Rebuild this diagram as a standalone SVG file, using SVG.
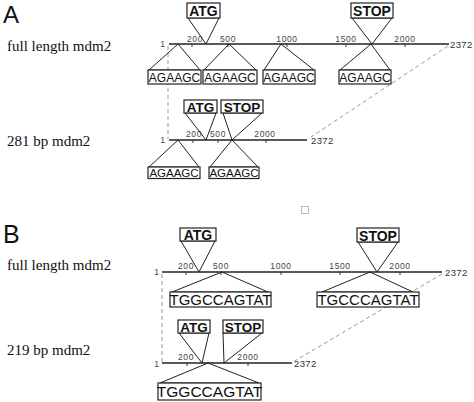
<svg xmlns="http://www.w3.org/2000/svg" width="474" height="402" viewBox="0 0 474 402">
<style>
.bg{fill:#fff}
.gene{stroke:#222;stroke-width:1.3;fill:none}
.tick{stroke:#333;stroke-width:1;fill:none}
.dash{stroke:#999;stroke-width:1;stroke-dasharray:4,3;fill:none}
.box{fill:#fff;stroke:#222;stroke-width:1.2}
.tri{fill:none;stroke:#222;stroke-width:1}
.lab{font-family:"Liberation Sans",Arial,sans-serif;font-weight:bold;fill:#111;text-anchor:middle}
.seq{font-family:"Liberation Sans",Arial,sans-serif;fill:#111;text-anchor:middle}
.num{font-family:"Liberation Sans",Arial,sans-serif;font-size:8.5px;fill:#444;text-anchor:middle;letter-spacing:0.6px}
.end{font-family:"Liberation Sans",Arial,sans-serif;font-size:9.5px;fill:#333;letter-spacing:0.4px}
.name{font-family:"Liberation Serif","Times New Roman",serif;font-size:15px;fill:#111}
.panel{font-family:"Liberation Sans",Arial,sans-serif;fill:#111}
</style>
<rect class="bg" x="0" y="0" width="474" height="402"/>

<text class="panel" x="3" y="23" font-size="24">A</text>
<text class="panel" x="3" y="243" font-size="25">B</text>
<text class="name" x="7" y="51">full length mdm2</text>
<text class="name" x="7" y="146">281 bp mdm2</text>
<text class="name" x="7" y="270" font-size="14.5">full length mdm2</text>
<text class="name" x="7" y="355">219 bp mdm2</text>
<rect x="301.5" y="206.5" width="7" height="7" fill="none" stroke="#bbb" stroke-width="1"/>

<g id="connectors">
<path class="dash" d="M168,46 V139"/>
<path class="dash" d="M448,46 L308,139"/>
<path class="dash" d="M162,274 V362"/>
<path class="dash" d="M442,274 L293,362"/>
</g>

<g id="lineA1">
<path class="gene" d="M169,44 H449"/>
<path class="tick" d="M192,44 v3 M228,44 v3 M287,44 v3 M346,44 v3 M405,44 v3"/>
<text class="num" x="163" y="47">1</text>
<text class="num" x="195" y="42">200</text>
<text class="num" x="228" y="42">500</text>
<text class="num" x="287" y="42">1000</text>
<text class="num" x="346" y="42">1500</text>
<text class="num" x="405" y="42">2000</text>
<text class="end" x="450" y="48">2372</text>
</g>
<g id="lineA2">
<path class="gene" d="M169,140 H307"/>
<path class="tick" d="M193,140 v3 M218,140 v3 M266,140 v3"/>
<text class="num" x="163" y="143">1</text>
<text class="num" x="194" y="137">200</text>
<text class="num" x="218" y="137">500</text>
<text class="num" x="265" y="137">2000</text>
<text class="end" x="311" y="144">2372</text>
</g>
<g id="lineB1">
<path class="gene" d="M162,272 H442"/>
<path class="tick" d="M186,272 v3 M221,272 v3 M281,272 v3 M340,272 v3 M400,272 v3"/>
<text class="num" x="157" y="275">1</text>
<text class="num" x="186" y="269">200</text>
<text class="num" x="221" y="269">500</text>
<text class="num" x="281" y="269">1000</text>
<text class="num" x="340" y="269">1500</text>
<text class="num" x="400" y="269">2000</text>
<text class="end" x="445" y="276">2372</text>
</g>
<g id="lineB2">
<path class="gene" d="M162,363 H292"/>
<path class="tick" d="M187,363 v3 M248,363 v3"/>
<text class="num" x="157" y="367">1</text>
<text class="num" x="186" y="360">200</text>
<text class="num" x="248" y="360">2000</text>
<text class="end" x="294" y="367">2372</text>
</g>

<g id="A-full-ATG">
<polygon class="tri" points="188,18 219,18 206,44"/>
<rect class="box" x="187" y="3" width="33" height="15"/>
<text class="lab" x="203.5" y="15.5" font-size="14">ATG</text>
</g>
<g id="A-full-STOP">
<polygon class="tri" points="352,18 392,18 372,44"/>
<rect class="box" x="351" y="3" width="42" height="15"/>
<text class="lab" x="372" y="15.5" font-size="14">STOP</text>
</g>
<g id="A-full-seq1">
<polygon class="tri" points="149,70 200,70 178,44"/>
<rect class="box" x="148" y="70" width="53" height="14"/>
<text class="seq" x="174.5" y="81.5" font-size="12">AGAAGC</text>
</g>
<g id="A-full-seq2">
<polygon class="tri" points="204,70 256,70 229,44"/>
<rect class="box" x="203" y="70" width="54" height="14"/>
<text class="seq" x="230" y="81.5" font-size="12">AGAAGC</text>
</g>
<g id="A-full-seq3">
<polygon class="tri" points="264,70 314,70 281,44"/>
<rect class="box" x="263" y="70" width="52" height="14"/>
<text class="seq" x="289" y="81.5" font-size="12">AGAAGC</text>
</g>
<g id="A-full-seq4">
<polygon class="tri" points="340,70 390,70 371,44"/>
<rect class="box" x="339" y="70" width="52" height="14"/>
<text class="seq" x="365" y="81.5" font-size="12">AGAAGC</text>
</g>

<g id="A-281-ATG">
<polygon class="tri" points="185,113 216,113 206,140"/>
<rect class="box" x="184" y="100" width="33" height="13"/>
<text class="lab" x="200.5" y="111.5" font-size="13.5">ATG</text>
</g>
<g id="A-281-STOP">
<polygon class="tri" points="223,113 262,113 232,140"/>
<rect class="box" x="221" y="100" width="42" height="13"/>
<text class="lab" x="242" y="111.5" font-size="13.5">STOP</text>
</g>
<g id="A-281-seq1">
<polygon class="tri" points="149,167 199,167 178,140"/>
<rect class="box" x="148" y="167" width="52" height="11.5"/>
<text class="seq" x="174" y="177" font-size="11.5">AGAAGC</text>
</g>
<g id="A-281-seq2">
<polygon class="tri" points="210,167 258,167 232,140"/>
<rect class="box" x="209" y="167" width="50" height="11.5"/>
<text class="seq" x="234" y="177" font-size="11.5">AGAAGC</text>
</g>

<g id="B-full-ATG">
<polygon class="tri" points="181,241 215,241 199,272"/>
<rect class="box" x="180" y="228" width="36" height="13"/>
<text class="lab" x="198" y="239.5" font-size="14">ATG</text>
</g>
<g id="B-full-STOP">
<polygon class="tri" points="358,242 398,242 377,272"/>
<rect class="box" x="357" y="228" width="42" height="14"/>
<text class="lab" x="378" y="240.5" font-size="14">STOP</text>
</g>
<g id="B-full-seq1">
<polygon class="tri" points="172,292 268,292 222,272"/>
<rect class="box" x="170" y="292" width="101" height="15"/>
<text class="seq" x="220.5" y="305" font-size="15">TGGCCAGTAT</text>
</g>
<g id="B-full-seq2">
<polygon class="tri" points="322,292 413,292 370,272"/>
<rect class="box" x="317" y="292" width="102" height="15"/>
<text class="seq" x="368" y="305" font-size="15">TGCCCAGTAT</text>
</g>

<g id="B-219-ATG">
<polygon class="tri" points="179,333 209,333 202,363"/>
<rect class="box" x="178" y="320" width="32" height="13"/>
<text class="lab" x="194" y="331.5" font-size="13.5">ATG</text>
</g>
<g id="B-219-STOP">
<polygon class="tri" points="223,333 262,333 224,363"/>
<rect class="box" x="223" y="320" width="40" height="13"/>
<text class="lab" x="243" y="331.5" font-size="13.5">STOP</text>
</g>
<g id="B-219-seq">
<polygon class="tri" points="160,383 259,383 208,363"/>
<rect class="box" x="158" y="383" width="103" height="17"/>
<text class="seq" x="209.5" y="397" font-size="15.5">TGGCCAGTAT</text>
</g>
</svg>
